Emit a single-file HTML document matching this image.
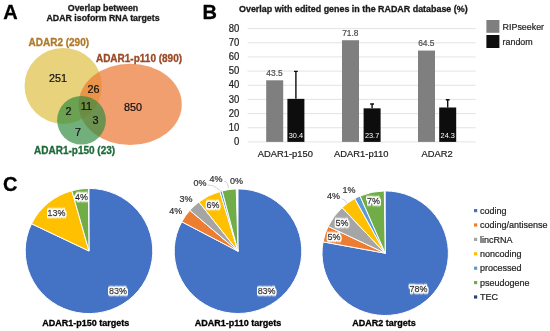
<!DOCTYPE html>
<html><head><meta charset="utf-8"><title>ADAR isoform RNA targets</title>
<style>
html,body{margin:0;padding:0;background:#fff;}
body{width:550px;height:331px;overflow:hidden;}
svg{display:block;font-family:"Liberation Sans",sans-serif;}
</style></head><body>
<svg width="550" height="331" viewBox="0 0 550 331">
<defs><filter id="glow" x="-40%" y="-40%" width="180%" height="180%"><feMorphology in="SourceAlpha" operator="dilate" radius="1.3"/><feGaussianBlur stdDeviation="0.8"/><feComponentTransfer result="a"><feFuncA type="linear" slope="2.0"/></feComponentTransfer><feFlood flood-color="#fff"/><feComposite in2="a" operator="in" result="h"/><feMerge><feMergeNode in="h"/><feMergeNode in="SourceGraphic"/></feMerge></filter></defs>
<rect width="550" height="331" fill="#fff"/>

<!-- Panel A -->
<text x="3.3" y="19.2" font-size="20" font-weight="bold" fill="#000" stroke="#000" stroke-width="0.3">A</text>
<text x="103" y="10.9" font-size="8.8" font-weight="bold" text-anchor="middle" fill="#1a1a1a" stroke="#1a1a1a" stroke-width="0.3">Overlap between</text>
<text x="103" y="21.1" font-size="8.8" font-weight="bold" text-anchor="middle" fill="#1a1a1a" stroke="#1a1a1a" stroke-width="0.3">ADAR isoform RNA targets</text>
<ellipse cx="63.2" cy="85.9" rx="38.7" ry="38.0" fill="#E8D27B"/>
<ellipse cx="130.2" cy="104.4" rx="51.6" ry="40.7" fill="#EB7A36" fill-opacity="0.72"/>
<circle cx="81.5" cy="120.25" r="24.35" fill="#2E8B3F" fill-opacity="0.68"/>
<text x="58.8" y="46.4" font-size="10" font-weight="bold" text-anchor="middle" fill="#B07A2A" stroke="#B07A2A" stroke-width="0.3">ADAR2 (290)</text>
<text x="139" y="62.1" font-size="10" font-weight="bold" text-anchor="middle" fill="#9A4A28" stroke="#9A4A28" stroke-width="0.3">ADAR1-p110 (890)</text>
<text x="74.6" y="154" font-size="10" font-weight="bold" text-anchor="middle" fill="#1E6B3A" stroke="#1E6B3A" stroke-width="0.3">ADAR1-p150 (23)</text>
<g font-size="10.8" text-anchor="middle" fill="#111">
<text x="58" y="81.8" fill="#111" stroke="#111" stroke-width="0.22">251</text>
<text x="93.6" y="92.7" fill="#111" stroke="#111" stroke-width="0.22">26</text>
<text x="86.4" y="110.1" fill="#111" stroke="#111" stroke-width="0.22">11</text>
<text x="68.6" y="114.7" fill="#111" stroke="#111" stroke-width="0.22">2</text>
<text x="95.4" y="124.1" fill="#111" stroke="#111" stroke-width="0.22">3</text>
<text x="78" y="135.7" fill="#111" stroke="#111" stroke-width="0.22">7</text>
<text x="133" y="110.7" fill="#111" stroke="#111" stroke-width="0.22">850</text>
</g>

<!-- Panel B -->
<text x="202.4" y="19.2" font-size="20" font-weight="bold" fill="#000" stroke="#000" stroke-width="0.3">B</text>
<text x="239" y="12.3" font-size="8.92" font-weight="bold" fill="#1a1a1a" stroke="#1a1a1a" stroke-width="0.3">Overlap with edited genes in the RADAR database (%)</text>
<line x1="247.6" x2="475.6" y1="141.90" y2="141.90" stroke="#DCDCDC" stroke-width="0.8"/>
<line x1="247.6" x2="475.6" y1="127.74" y2="127.74" stroke="#DCDCDC" stroke-width="0.8"/>
<line x1="247.6" x2="475.6" y1="113.58" y2="113.58" stroke="#DCDCDC" stroke-width="0.8"/>
<line x1="247.6" x2="475.6" y1="99.42" y2="99.42" stroke="#DCDCDC" stroke-width="0.8"/>
<line x1="247.6" x2="475.6" y1="85.26" y2="85.26" stroke="#DCDCDC" stroke-width="0.8"/>
<line x1="247.6" x2="475.6" y1="71.10" y2="71.10" stroke="#DCDCDC" stroke-width="0.8"/>
<line x1="247.6" x2="475.6" y1="56.94" y2="56.94" stroke="#DCDCDC" stroke-width="0.8"/>
<line x1="247.6" x2="475.6" y1="42.78" y2="42.78" stroke="#DCDCDC" stroke-width="0.8"/>
<line x1="247.6" x2="475.6" y1="28.62" y2="28.62" stroke="#DCDCDC" stroke-width="0.8"/>
<text transform="translate(239.3,145.00) scale(0.95,1)" font-size="10" text-anchor="end" fill="#222222" stroke="#222222" stroke-width="0.22">0</text>
<text transform="translate(239.3,130.84) scale(0.95,1)" font-size="10" text-anchor="end" fill="#222222" stroke="#222222" stroke-width="0.22">10</text>
<text transform="translate(239.3,116.68) scale(0.95,1)" font-size="10" text-anchor="end" fill="#222222" stroke="#222222" stroke-width="0.22">20</text>
<text transform="translate(239.3,102.52) scale(0.95,1)" font-size="10" text-anchor="end" fill="#222222" stroke="#222222" stroke-width="0.22">30</text>
<text transform="translate(239.3,88.36) scale(0.95,1)" font-size="10" text-anchor="end" fill="#222222" stroke="#222222" stroke-width="0.22">40</text>
<text transform="translate(239.3,74.20) scale(0.95,1)" font-size="10" text-anchor="end" fill="#222222" stroke="#222222" stroke-width="0.22">50</text>
<text transform="translate(239.3,60.04) scale(0.95,1)" font-size="10" text-anchor="end" fill="#222222" stroke="#222222" stroke-width="0.22">60</text>
<text transform="translate(239.3,45.88) scale(0.95,1)" font-size="10" text-anchor="end" fill="#222222" stroke="#222222" stroke-width="0.22">70</text>
<text transform="translate(239.3,31.72) scale(0.95,1)" font-size="10" text-anchor="end" fill="#222222" stroke="#222222" stroke-width="0.22">80</text>
<rect x="266.2" y="80.30" width="17" height="61.60" fill="#7F7F7F"/>
<rect x="287.4" y="98.85" width="17" height="43.05" fill="#0D0D0D"/>
<path d="M295.90,98.85 V71.10 M294.00,71.40 H297.80" stroke="#0D0D0D" stroke-width="1.4" fill="none"/>
<text x="274.5" y="76.10" font-size="8.4" text-anchor="middle" fill="#505050" stroke="#505050" stroke-width="0.22">43.5</text>
<text transform="translate(295.90,138.20) scale(0.92,1)" font-size="8" text-anchor="middle" fill="#ffffff">30.4</text>
<text transform="translate(285.30,156.7) scale(0.95,1)" font-size="9.85" text-anchor="middle" fill="#222222" stroke="#222222" stroke-width="0.22">ADAR1-p150</text>
<rect x="342" y="40.23" width="17" height="101.67" fill="#7F7F7F"/>
<rect x="363.6" y="108.34" width="17" height="33.56" fill="#0D0D0D"/>
<path d="M372.10,108.34 V103.67 M370.20,103.97 H374.00" stroke="#0D0D0D" stroke-width="1.4" fill="none"/>
<text x="350.3" y="36.03" font-size="8.4" text-anchor="middle" fill="#505050" stroke="#505050" stroke-width="0.22">71.8</text>
<text transform="translate(372.10,138.20) scale(0.92,1)" font-size="8" text-anchor="middle" fill="#ffffff">23.7</text>
<text transform="translate(361.30,156.7) scale(0.95,1)" font-size="9.85" text-anchor="middle" fill="#222222" stroke="#222222" stroke-width="0.22">ADAR1-p110</text>
<rect x="418" y="50.57" width="17" height="91.33" fill="#7F7F7F"/>
<rect x="439.2" y="107.49" width="17" height="34.41" fill="#0D0D0D"/>
<path d="M447.70,107.49 V99.42 M445.80,99.72 H449.60" stroke="#0D0D0D" stroke-width="1.4" fill="none"/>
<text x="426.3" y="46.37" font-size="8.4" text-anchor="middle" fill="#505050" stroke="#505050" stroke-width="0.22">64.5</text>
<text transform="translate(447.70,138.20) scale(0.92,1)" font-size="8" text-anchor="middle" fill="#ffffff">24.3</text>
<text transform="translate(437.10,156.7) scale(0.95,1)" font-size="9.85" text-anchor="middle" fill="#222222" stroke="#222222" stroke-width="0.22">ADAR2</text>
<rect x="486.4" y="20" width="13" height="12.8" fill="#7F7F7F"/>
<rect x="486.4" y="35" width="13" height="13" fill="#0D0D0D"/>
<text x="502.6" y="30.2" font-size="8.9" fill="#262626" stroke="#262626" stroke-width="0.22">RIPseeker</text>
<text x="502.6" y="44.8" font-size="8.9" fill="#262626" stroke="#262626" stroke-width="0.22">random</text>

<!-- Panel C -->
<text x="2.9" y="191.4" font-size="20" font-weight="bold" fill="#000" stroke="#000" stroke-width="0.3">C</text>
<path d="M89.00,251.00 L89.00,188.40 A63.8,62.6 0 1 1 31.56,223.75 Z" fill="#4472C4" stroke="#fff" stroke-width="1.0" stroke-linejoin="round"/>
<path d="M89.00,251.00 L31.56,223.75 A63.8,62.6 0 0 1 71.84,190.71 Z" fill="#FFC000" stroke="#fff" stroke-width="1.0" stroke-linejoin="round"/>
<path d="M89.00,251.00 L71.84,190.71 A63.8,62.6 0 0 1 88.33,188.40 Z" fill="#70AD47" stroke="#fff" stroke-width="1.0" stroke-linejoin="round"/>
<path d="M238.00,251.20 L238.00,188.90 A63.8,62.3 0 1 1 181.77,221.76 Z" fill="#4472C4" stroke="#fff" stroke-width="1.0" stroke-linejoin="round"/>
<path d="M238.00,251.20 L181.77,221.76 A63.8,62.3 0 0 1 189.85,210.33 Z" fill="#ED7D31" stroke="#fff" stroke-width="1.0" stroke-linejoin="round"/>
<path d="M238.00,251.20 L189.85,210.33 A63.8,62.3 0 0 1 198.90,201.97 Z" fill="#A5A5A5" stroke="#fff" stroke-width="1.0" stroke-linejoin="round"/>
<path d="M238.00,251.20 L198.90,201.97 A63.8,62.3 0 0 1 219.88,191.47 Z" fill="#FFC000" stroke="#fff" stroke-width="1.0" stroke-linejoin="round"/>
<path d="M238.00,251.20 L219.88,191.47 A63.8,62.3 0 0 1 222.13,190.86 Z" fill="#5B9BD5" stroke="#fff" stroke-width="1.0" stroke-linejoin="round"/>
<path d="M238.00,251.20 L222.13,190.86 A63.8,62.3 0 0 1 236.22,188.92 Z" fill="#70AD47" stroke="#fff" stroke-width="1.0" stroke-linejoin="round"/>
<path d="M385.20,253.20 L385.20,190.90 A63.2,62.3 0 1 1 323.06,241.85 Z" fill="#4472C4" stroke="#fff" stroke-width="1.0" stroke-linejoin="round"/>
<path d="M385.20,253.20 L323.06,241.85 A63.2,62.3 0 0 1 328.16,226.38 Z" fill="#ED7D31" stroke="#fff" stroke-width="1.0" stroke-linejoin="round"/>
<path d="M385.20,253.20 L328.16,226.38 A63.2,62.3 0 0 1 342.10,207.64 Z" fill="#A5A5A5" stroke="#fff" stroke-width="1.0" stroke-linejoin="round"/>
<path d="M385.20,253.20 L342.10,207.64 A63.2,62.3 0 0 1 354.75,198.61 Z" fill="#FFC000" stroke="#fff" stroke-width="1.0" stroke-linejoin="round"/>
<path d="M385.20,253.20 L354.75,198.61 A63.2,62.3 0 0 1 360.10,196.02 Z" fill="#5B9BD5" stroke="#fff" stroke-width="1.0" stroke-linejoin="round"/>
<path d="M385.20,253.20 L360.10,196.02 A63.2,62.3 0 0 1 384.32,190.91 Z" fill="#70AD47" stroke="#fff" stroke-width="1.0" stroke-linejoin="round"/>
<text transform="translate(81.4,200.3) scale(0.94,1)" font-size="9.57" text-anchor="middle" fill="#1c1c1c" filter="url(#glow)" stroke="#1c1c1c" stroke-width="0.45">4%</text>
<text transform="translate(56.4,215.5) scale(0.94,1)" font-size="9.57" text-anchor="middle" fill="#1c1c1c" filter="url(#glow)" stroke="#1c1c1c" stroke-width="0.45">13%</text>
<text transform="translate(118,293.5) scale(0.94,1)" font-size="9.57" text-anchor="middle" fill="#1c1c1c" filter="url(#glow)" stroke="#1c1c1c" stroke-width="0.45">83%</text>
<text x="85.8" y="325.6" font-size="9" font-weight="bold" text-anchor="middle" fill="#000" stroke="#000" stroke-width="0.3">ADAR1-p150 targets</text>

<path d="M207.4,185 L213,185.6 L220.4,190.6" stroke="#BFBFBF" stroke-width="0.7" fill="none"/>
<path d="M224.2,181.2 Q227.8,181.4 228.5,188.2" stroke="#BFBFBF" stroke-width="0.7" fill="none"/>
<text transform="translate(175.8,214.4) scale(0.94,1)" font-size="9.57" text-anchor="middle" fill="#303030" font-weight="normal" stroke="#303030" stroke-width="0.22">4%</text>
<text transform="translate(186,201.9) scale(0.94,1)" font-size="9.57" text-anchor="middle" fill="#303030" font-weight="normal" stroke="#303030" stroke-width="0.22">3%</text>
<text transform="translate(200,186.2) scale(0.94,1)" font-size="9.57" text-anchor="middle" fill="#303030" font-weight="normal" stroke="#303030" stroke-width="0.22">0%</text>
<text transform="translate(216,182.2) scale(0.94,1)" font-size="9.57" text-anchor="middle" fill="#303030" font-weight="normal" stroke="#303030" stroke-width="0.22">4%</text>
<text transform="translate(236.6,183.8) scale(0.94,1)" font-size="9.57" text-anchor="middle" fill="#303030" font-weight="normal" stroke="#303030" stroke-width="0.22">0%</text>
<text transform="translate(213,207.5) scale(0.94,1)" font-size="9.57" text-anchor="middle" fill="#1c1c1c" filter="url(#glow)" stroke="#1c1c1c" stroke-width="0.45">6%</text>
<text transform="translate(266.6,293.5) scale(0.94,1)" font-size="9.57" text-anchor="middle" fill="#1c1c1c" filter="url(#glow)" stroke="#1c1c1c" stroke-width="0.45">83%</text>
<text x="238" y="325.6" font-size="9" font-weight="bold" text-anchor="middle" fill="#000" stroke="#000" stroke-width="0.3">ADAR1-p110 targets</text>

<path d="M341.5,198.6 Q345.5,199.4 347,203.2" stroke="#BFBFBF" stroke-width="0.7" fill="none"/>
<text transform="translate(333.6,199.1) scale(0.94,1)" font-size="9.57" text-anchor="middle" fill="#303030" font-weight="normal" stroke="#303030" stroke-width="0.22">4%</text>
<text transform="translate(348.9,193.4) scale(0.94,1)" font-size="9.57" text-anchor="middle" fill="#303030" font-weight="normal" stroke="#303030" stroke-width="0.22">1%</text>
<text transform="translate(373.4,203.9) scale(0.94,1)" font-size="9.57" text-anchor="middle" fill="#1c1c1c" filter="url(#glow)" stroke="#1c1c1c" stroke-width="0.45">7%</text>
<text transform="translate(342,225.9) scale(0.94,1)" font-size="9.57" text-anchor="middle" fill="#1c1c1c" filter="url(#glow)" stroke="#1c1c1c" stroke-width="0.45">5%</text>
<text transform="translate(334,239.5) scale(0.94,1)" font-size="9.57" text-anchor="middle" fill="#1c1c1c" filter="url(#glow)" stroke="#1c1c1c" stroke-width="0.45">5%</text>
<text transform="translate(418.4,291.9) scale(0.94,1)" font-size="9.57" text-anchor="middle" fill="#1c1c1c" filter="url(#glow)" stroke="#1c1c1c" stroke-width="0.45">78%</text>
<text x="384" y="325.6" font-size="9" font-weight="bold" text-anchor="middle" fill="#000" stroke="#000" stroke-width="0.3">ADAR2 targets</text>

<rect x="474" y="209.00" width="3.2" height="3.2" fill="#4472C4"/>
<text x="480" y="213.70" font-size="9" fill="#262626" stroke="#262626" stroke-width="0.22">coding</text>
<rect x="474" y="223.40" width="3.2" height="3.2" fill="#ED7D31"/>
<text x="480" y="228.10" font-size="9" fill="#262626" stroke="#262626" stroke-width="0.22">coding/antisense</text>
<rect x="474" y="237.80" width="3.2" height="3.2" fill="#A5A5A5"/>
<text x="480" y="242.50" font-size="9" fill="#262626" stroke="#262626" stroke-width="0.22">lincRNA</text>
<rect x="474" y="252.20" width="3.2" height="3.2" fill="#FFC000"/>
<text x="480" y="256.90" font-size="9" fill="#262626" stroke="#262626" stroke-width="0.22">noncoding</text>
<rect x="474" y="266.60" width="3.2" height="3.2" fill="#5B9BD5"/>
<text x="480" y="271.30" font-size="9" fill="#262626" stroke="#262626" stroke-width="0.22">processed</text>
<rect x="474" y="281.00" width="3.2" height="3.2" fill="#70AD47"/>
<text x="480" y="285.70" font-size="9" fill="#262626" stroke="#262626" stroke-width="0.22">pseudogene</text>
<rect x="474" y="295.40" width="3.2" height="3.2" fill="#264478"/>
<text x="480" y="300.10" font-size="9" fill="#262626" stroke="#262626" stroke-width="0.22">TEC</text>
</svg>
</body></html>
